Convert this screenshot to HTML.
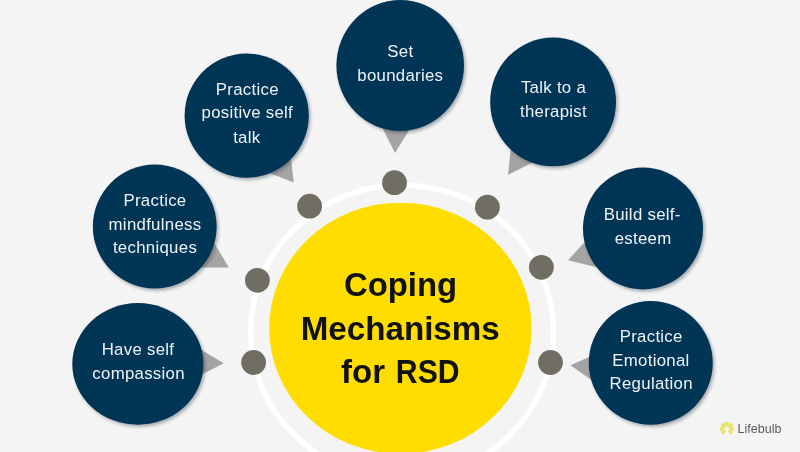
<!DOCTYPE html>
<html><head><meta charset="utf-8">
<style>
html,body{margin:0;padding:0;background:#f4f4f4;}
body{width:800px;height:452px;overflow:hidden;position:relative;}
svg{position:absolute;left:0;top:0;will-change:transform;}
.bt{font-family:"Liberation Sans",sans-serif;font-size:16.8px;fill:#eef3f7;letter-spacing:0.3px;}
.tt{font-family:"Liberation Sans",sans-serif;font-size:33.5px;font-weight:bold;fill:#111111;}
.lg{font-family:"Liberation Sans",sans-serif;font-size:12.5px;fill:#5a5a5a;}
</style></head>
<body>
<svg width="800" height="452" viewBox="0 0 800 452">
<defs>
<filter id="sh" x="-20%" y="-20%" width="140%" height="140%">
<feDropShadow dx="1.8" dy="2.2" stdDeviation="1.4" flood-color="#1a2530" flood-opacity="0.35"/>
</filter>
</defs>
<!-- ring -->
<ellipse cx="402.1" cy="331.9" rx="151.4" ry="147" fill="none" stroke="#ffffff" stroke-width="5.5"/>
<!-- yellow -->
<ellipse cx="400.4" cy="328.3" rx="131.2" ry="125.6" fill="#ffdd00"/>
<!-- dots -->
<g fill="#706e62">
<circle cx="394.5" cy="182.7" r="12.4"/>
<circle cx="309.6" cy="206.2" r="12.4"/>
<circle cx="487.4" cy="207.2" r="12.4"/>
<circle cx="257.4" cy="280.3" r="12.4"/>
<circle cx="253.6" cy="362.5" r="12.4"/>
<circle cx="541.4" cy="267.3" r="12.4"/>
<circle cx="550.5" cy="362.5" r="12.4"/>
</g>
<!-- tails -->
<g fill="#a4a4a5">
<polygon points="368.3,100 427.8,100 395,153"/>
<polygon points="289,140 250,165.5 293.7,182.6"/>
<polygon points="513.5,120 560,149 508.1,174.8"/>
<polygon points="197.5,215 180,267.6 228.9,267.6"/>
<polygon points="170,331 170,391.1 223.7,363.2"/>
<polygon points="620,203.2 620,273 568.1,260.2"/>
<polygon points="620,343.2 620,400.3 570.5,365.2"/>
</g>
<!-- bubbles -->
<g fill="#023457" filter="url(#sh)">
<ellipse cx="400.2" cy="65.5" rx="63.8" ry="65.5"/>
<circle cx="246.7" cy="115.6" r="62.1"/>
<ellipse cx="553.1" cy="101.9" rx="62.9" ry="64.4"/>
<circle cx="154.75" cy="226.5" r="61.9"/>
<ellipse cx="137.9" cy="363.9" rx="65.6" ry="60.8"/>
<ellipse cx="643" cy="228.5" rx="60" ry="61"/>
<ellipse cx="650.75" cy="362.9" rx="62" ry="61.9"/>
</g>
<!-- bubble text -->
<g class="bt" text-anchor="middle">
<text x="400.3" y="57">Set</text>
<text x="400.3" y="80.6">boundaries</text>
<text x="247.3" y="95">Practice</text>
<text x="247.3" y="118.4">positive self</text>
<text x="246.8" y="142.6">talk</text>
<text x="553.5" y="92.5">Talk to a</text>
<text x="553.5" y="116.8">therapist</text>
<text x="155" y="205.9">Practice</text>
<text x="155" y="229.6">mindfulness</text>
<text x="155" y="253.4">techniques</text>
<text x="138" y="354.7">Have self</text>
<text x="138.6" y="378.7">compassion</text>
<text x="642.2" y="219.75">Build self-</text>
<text x="643.1" y="244">esteem</text>
<text x="651.2" y="341.8">Practice</text>
<text x="651" y="365.7">Emotional</text>
<text x="651.2" y="389.4">Regulation</text>
</g>
<!-- title -->
<g class="tt" text-anchor="middle">
<text transform="translate(400.5 295.8) scale(0.98 1)">Coping</text>
<text transform="translate(400.2 339.6) scale(0.99 1)">Mechanisms</text>
<text transform="translate(341 383.4) scale(0.985 1)" text-anchor="start">for</text>
<text transform="translate(459.5 383.4) scale(0.9 1)" text-anchor="end">RSD</text>
</g>
<!-- logo -->
<g>
<g fill="#e9e35a"><path d="M726.15 426.53 L724.69 422.27 A6.8 6.8 0 0 1 729.11 422.27 L727.65 426.53 A2.3 2.3 0 0 0 726.15 426.53 Z"/><path d="M727.91 426.63 L729.88 422.59 A6.8 6.8 0 0 1 733.01 425.72 L728.97 427.69 A2.3 2.3 0 0 0 727.91 426.63 Z"/><path d="M729.07 427.95 L733.33 426.49 A6.8 6.8 0 0 1 733.33 430.91 L729.07 429.45 A2.3 2.3 0 0 0 729.07 427.95 Z"/><path d="M728.97 429.71 L733.01 431.68 A6.8 6.8 0 0 1 729.88 434.81 L727.91 430.77 A2.3 2.3 0 0 0 728.97 429.71 Z"/><path d="M725.89 430.77 L723.92 434.81 A6.8 6.8 0 0 1 720.79 431.68 L724.83 429.71 A2.3 2.3 0 0 0 725.89 430.77 Z"/><path d="M724.73 429.45 L720.47 430.91 A6.8 6.8 0 0 1 720.47 426.49 L724.73 427.95 A2.3 2.3 0 0 0 724.73 429.45 Z"/><path d="M724.83 427.69 L720.79 425.72 A6.8 6.8 0 0 1 723.92 422.59 L725.89 426.63 A2.3 2.3 0 0 0 724.83 427.69 Z"/></g>
<text class="lg" x="737.6" y="433">Lifebulb</text>
</g>
</svg>
</body></html>
